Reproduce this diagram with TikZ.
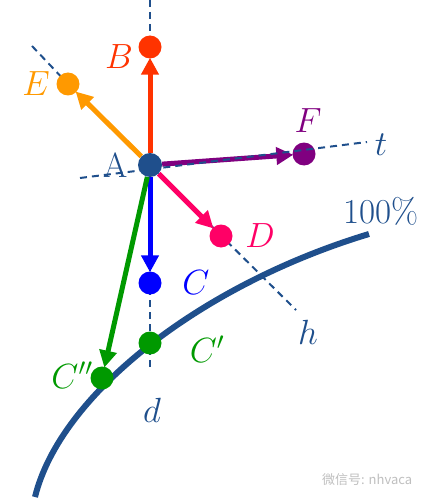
\RequirePackage{fix-cm}
\documentclass[tikz,border=0pt]{standalone}
\usepackage{fontspec}
\newfontfamily\cjkfont{Noto Sans CJK SC}
\usetikzlibrary{arrows.meta}
\definecolor{dblue}{HTML}{1F4F8C}
\definecolor{cred}{HTML}{FF3300}
\definecolor{corange}{HTML}{FF9900}
\definecolor{cpurple}{HTML}{800080}
\definecolor{cpink}{HTML}{FF0066}
\definecolor{cblue}{HTML}{0000FF}
\definecolor{cgreen}{HTML}{009900}
\tikzset{
  dot/.style={circle,fill=#1,minimum size=23pt,inner sep=0pt},
  dline/.style={dblue,line width=2pt,dash pattern=on 7pt off 5pt},
  vec/.style={#1,line width=5pt,-{Triangle[length=17pt,width=17pt]},shorten >=-1pt},
  lbl/.style={font=\fontsize{35}{40}\selectfont,text=#1,inner sep=0pt}
}
\begin{document}
\begin{tikzpicture}[x=1pt,y=-1pt]
\useasboundingbox (0,0) rectangle (442,500);
% coordinates
\coordinate (ctop) at (150,0);
\coordinate (cbot) at (150,370);
\coordinate (eend) at (32,46);
\coordinate (tstart) at (80,178);
\coordinate (tend) at (367,142);
\coordinate (hend) at (296,310);
\coordinate (cs) at (35,497);
\coordinate (ce) at (369,234);
% dashed lines beneath
\draw[dline] (ctop) -- (cbot);
\draw[dline] (eend) -- (68,84);
\draw[dline] (150,165) -- (hend);
% curve
\draw[dblue,line width=6pt] (cs) .. controls (60,395) and (200,285) .. (ce);
% dots
\node[dot=cred] (B) at (150,47) {};
\node[dot=corange] (E) at (68,84) {};
\node[dot=cpurple] (F) at (304,154) {};
\node[dot=cpink] (D) at (221,236) {};
\node[dot=cblue] (C) at (150,283) {};
\node[dot=cgreen] (C1) at (150,343) {};
\node[dot=cgreen] (C2) at (102,378) {};
\node[circle,minimum size=24pt,inner sep=0pt] (A) at (150,165) {};
% vectors
\draw[vec=cred] (A) -- (B);
\draw[vec=corange] (A) -- (E);
\draw[vec=cpurple] (A) -- (F);
\draw[vec=cpink] (A) -- (D);
\draw[vec=cblue] (A) -- (C);
\draw[vec=cgreen] (A) -- (C2);
% t line on top
\draw[dline] (tstart) -- (tend);
% A dot
\node[dot=dblue,minimum size=24pt] at (A) {};
% labels
\node[lbl=cred] (lB) at (119,57) {$B$};
\node[lbl=corange] (lE) at (36,84) {$E$};
\node[lbl=dblue] (lA) at (116,165) {A};
\node[lbl=cpurple] (lF) at (308,121) {$F$};
\node[lbl=dblue] (lt) at (381,145) {$t$};
\node[lbl=cpink] (lD) at (260,236) {$D$};
\node[lbl=dblue] (l100) at (381,211) {100\%};
\node[lbl=cblue] (lC) at (196,283) {$C$};
\node[lbl=cgreen] (lC1) at (207,349) {$C'$};
\node[lbl=cgreen] (lC2) at (72,375) {$C''$};
\node[lbl=dblue] (lh) at (308,332) {$h$};
\node[lbl=dblue] (ld) at (152,410) {$d$};
\node[text=black!25,font=\cjkfont\fontsize{13}{15}\selectfont,anchor=west,inner sep=0pt] (wm) at (322,480) {微信号: nhvaca};
\end{tikzpicture}
\end{document}
